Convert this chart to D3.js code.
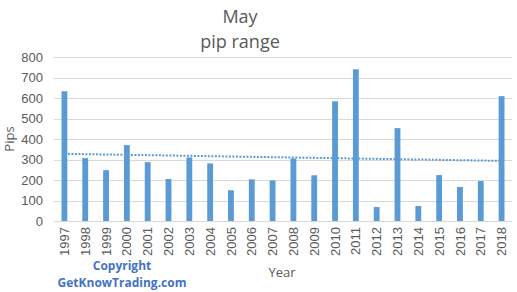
<!DOCTYPE html>
<html>
<head>
<meta charset="utf-8">
<script src="https://cdn.jsdelivr.net/npm/d3@7"></script>
<style>
  html, body { margin: 0; padding: 0; background: #fff; }
  svg { display: block; font-family: "Open Sans", "Liberation Sans", sans-serif; }
</style>
</head>
<body>
<svg id="chart" width="517" height="292"></svg>
<script>
/* May pip range by year, bars + linear trendline */

const years = ["1997","1998","1999","2000","2001","2002","2003","2004","2005","2006","2007",
               "2008","2009","2010","2011","2012","2013","2014","2015","2016","2017","2018"];
const pips  = [633, 307, 248, 370, 287, 205, 310, 281, 150, 203, 198,
               305, 223, 584, 740, 68, 453, 73, 224, 166, 195, 609];
const yTicks = [0, 100, 200, 300, 400, 500, 600, 700, 800];
const titleLines = ["May", "pip range"];

const W = 517, H = 292;
const m = { top: 57, right: 5, bottom: 71, left: 54 };

const svg = d3.select("#chart");

const x = d3.scaleBand()
  .domain(years)
  .range([m.left, W - m.right])
  .paddingInner(0.72)
  .paddingOuter(0.36);

const y = d3.scaleLinear()
  .domain([0, 800])
  .range([H - m.bottom, m.top]);

// gridlines
svg.append("g")
  .selectAll("line")
  .data(yTicks)
  .join("line")
  .attr("x1", m.left).attr("x2", W - m.right)
  .attr("y1", d => Math.round(y(d)) + 0.5).attr("y2", d => Math.round(y(d)) + 0.5)
  .attr("stroke", "#d9d9d9").attr("stroke-width", 1);

// y axis labels
const yAxis = d3.axisLeft(y).tickValues(yTicks).tickSize(0).tickPadding(11);
svg.append("g")
  .attr("transform", `translate(${m.left},0)`)
  .call(yAxis)
  .call(g => g.select(".domain").remove())
  .call(g => g.selectAll("text")
    .attr("fill", "#595959").attr("font-size", "13px"));

// bars
svg.append("g")
  .selectAll("rect")
  .data(pips)
  .join("rect")
  .attr("x", (d, i) => x(years[i]))
  .attr("width", x.bandwidth())
  .attr("y", d => y(d))
  .attr("height", d => y(0) - y(d))
  .attr("fill", "#5b9bd5");

// linear trendline (least squares on index)
const idx = d3.range(pips.length);
const mx = d3.mean(idx), my = d3.mean(pips);
const slope = d3.sum(idx, i => (i - mx) * (pips[i] - my)) / d3.sum(idx, i => (i - mx) ** 2);
const icpt = my - slope * mx;
const cx = i => x(years[i]) + x.bandwidth() / 2;
svg.append("line")
  .attr("x1", cx(0)).attr("x2", cx(pips.length - 1))
  .attr("y1", y(icpt)).attr("y2", y(icpt + slope * (pips.length - 1)))
  .attr("stroke", "#5b9bd5").attr("stroke-width", 2)
  .attr("stroke-dasharray", "2,1.5");

// x axis labels (rotated)
const xAxis = d3.axisBottom(x).tickSize(0).tickPadding(0);
svg.append("g")
  .attr("transform", `translate(0,${H - m.bottom})`)
  .call(xAxis)
  .call(g => g.select(".domain").remove())
  .call(g => g.selectAll("text")
    .attr("fill", "#595959").attr("font-size", "13px")
    .attr("text-anchor", "end")
    .attr("dy", "0.35em")
    .attr("transform", "translate(0,6) rotate(-90)"));

// title
svg.append("g")
  .selectAll("text")
  .data(titleLines)
  .join("text")
  .attr("x", 240)
  .attr("y", (d, i) => 23 + i * 25)
  .attr("text-anchor", "middle")
  .attr("fill", "#595959")
  .attr("font-size", "18px")
  .text(d => d);

// axis titles
svg.append("text")
  .attr("transform", `translate(14,${(y(0) + y(800)) / 2}) rotate(-90)`)
  .attr("text-anchor", "middle")
  .attr("fill", "#595959").attr("font-size", "13px")
  .text("Pips");

svg.append("text")
  .attr("x", 282).attr("y", 277)
  .attr("text-anchor", "middle")
  .attr("fill", "#595959").attr("font-size", "13px")
  .text("Year");

// watermark
svg.append("g")
  .selectAll("text")
  .data(["Copyright", "GetKnowTrading.com"])
  .join("text")
  .attr("x", 122)
  .attr("y", (d, i) => 270 + i * 17)
  .attr("text-anchor", "middle")
  .attr("fill", "#4472c4")
  .attr("font-size", "12px")
  .attr("font-weight", "bold")
  .text(d => d);
</script>
</body>
</html>
